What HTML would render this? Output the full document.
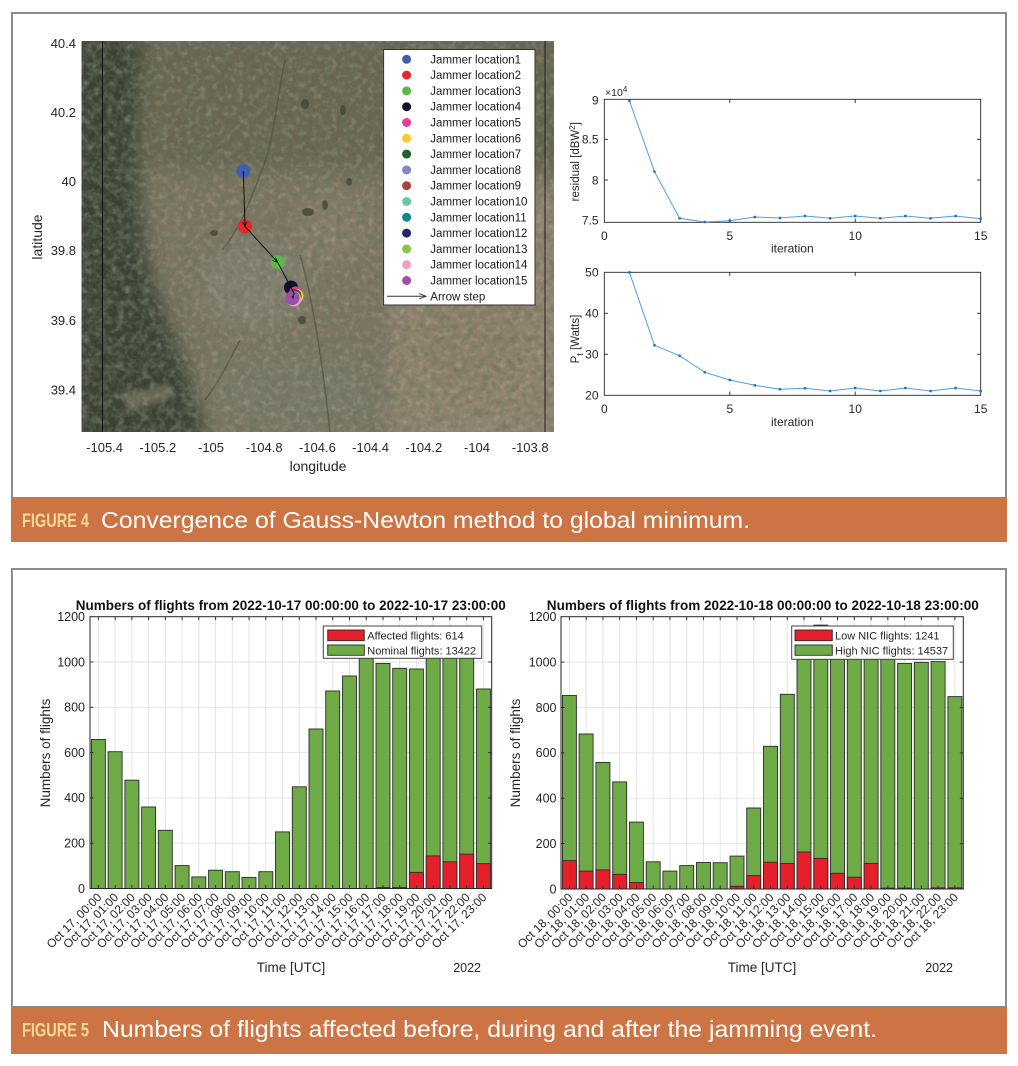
<!DOCTYPE html>
<html><head><meta charset="utf-8"><style>
html,body{margin:0;padding:0;background:#fff;}
svg{display:block;font-family:"Liberation Sans",Arial,sans-serif;}
</style></head><body>
<svg width="1018" height="1066" viewBox="0 0 1018 1066" xmlns="http://www.w3.org/2000/svg">
<defs>
<clipPath id="mc"><rect x="81.5" y="41" width="472.5" height="391"/></clipPath>
<filter id="b10" x="-20%" y="-20%" width="140%" height="140%"><feGaussianBlur stdDeviation="9"/></filter>
<filter id="b3" x="-20%" y="-20%" width="140%" height="140%"><feGaussianBlur stdDeviation="3"/></filter>
<filter id="tex" x="0" y="0" width="100%" height="100%"><feTurbulence type="fractalNoise" baseFrequency="0.12" numOctaves="3" seed="7"/><feColorMatrix type="matrix" values="0 0 0 0 0.14  0 0 0 0 0.17  0 0 0 0 0.11  2.6 0 0 0 -1.05"/></filter>
<filter id="tex2" x="0" y="0" width="100%" height="100%"><feTurbulence type="fractalNoise" baseFrequency="0.16" numOctaves="3" seed="21"/><feColorMatrix type="matrix" values="0 0 0 0 0.72  0 0 0 0 0.68  0 0 0 0 0.58  0 2.4 0 0 -1.1"/></filter>
<pattern id="vgL" patternUnits="userSpaceOnUse" x="90" y="0" width="16.74" height="10"><rect x="7.9" y="0" width="0.9" height="10" fill="#e2e2e2"/></pattern>
<pattern id="vgR" patternUnits="userSpaceOnUse" x="561" y="0" width="16.76" height="10"><rect x="7.9" y="0" width="0.9" height="10" fill="#e2e2e2"/></pattern>
<pattern id="tkL" patternUnits="userSpaceOnUse" x="90" y="0" width="16.74" height="10"><rect x="7.9" y="0" width="1" height="10" fill="#333"/></pattern>
<pattern id="tkR" patternUnits="userSpaceOnUse" x="561" y="0" width="16.76" height="10"><rect x="7.9" y="0" width="1" height="10" fill="#333"/></pattern>
</defs>
<rect width="1018" height="1066" fill="#fff"/>

<!-- ============ FIGURE 4 PANEL ============ -->
<rect x="12" y="13" width="994" height="485" fill="#fff" stroke="#8c8c8c" stroke-width="2"/>
<rect x="11" y="497.5" width="996" height="44.5" fill="#CD7445"/>
<text x="22" y="527" font-family="'Liberation Sans Narrow','Liberation Sans',sans-serif" font-weight="bold" font-size="19" fill="#F8D98F" textLength="67" lengthAdjust="spacingAndGlyphs">FIGURE 4</text>
<text x="101" y="528" font-size="23" fill="#fff" textLength="649" lengthAdjust="spacingAndGlyphs">Convergence of Gauss-Newton method to global minimum.</text>

<!-- map -->
<g clip-path="url(#mc)">
<rect x="81" y="41" width="474" height="392" fill="#7b7561"/>
<g filter="url(#b10)">
 <rect x="140" y="30" width="430" height="140" fill="#62624c" opacity="0.75"/>
 <rect x="390" y="190" width="180" height="260" fill="#948670" opacity="0.85"/>
 <ellipse cx="300" cy="395" rx="95" ry="50" fill="#7c796a" opacity="0.6"/>
 <ellipse cx="255" cy="285" rx="55" ry="45" fill="#8a877e" opacity="0.55"/>
 <ellipse cx="330" cy="230" rx="40" ry="35" fill="#8c8069" opacity="0.6"/>
 <ellipse cx="520" cy="110" rx="40" ry="70" fill="#5e5f4c" opacity="0.6"/>
 <ellipse cx="470" cy="330" rx="50" ry="60" fill="#877a62" opacity="0.5"/>
 <polygon points="70,30 142,30 138,130 141,210 150,270 162,305 178,345 192,385 210,445 70,445" fill="#3b4234"/>
</g>
<polygon points="120,395 170,385 175,395 130,412" fill="#8e8470" opacity="0.6" filter="url(#b3)"/>
<rect x="81" y="41" width="474" height="392" filter="url(#tex)" opacity="0.6"/>
<rect x="81" y="41" width="474" height="392" filter="url(#tex2)" opacity="0.22"/>
<g fill="#3a4232" opacity="0.7">
<ellipse cx="308" cy="212" rx="6" ry="4"/><ellipse cx="325" cy="205" rx="3" ry="5"/><ellipse cx="349" cy="182" rx="3" ry="4"/><ellipse cx="302" cy="320" rx="4" ry="4"/><ellipse cx="214" cy="233" rx="4" ry="3"/><ellipse cx="305" cy="104" rx="4" ry="5"/><ellipse cx="343" cy="110" rx="3" ry="5"/>
</g>
<g fill="none" stroke="#4a4f3e" stroke-width="1.5" opacity="0.6">
<path d="M222,250 C240,230 250,200 262,170 S275,110 285,60"/>
<path d="M300,255 C310,290 320,340 330,432"/>
<path d="M240,340 C230,360 220,380 205,400"/>
</g>
<line x1="102.5" y1="41" x2="102.5" y2="432" stroke="#111" stroke-width="1"/>
<line x1="545" y1="41" x2="545" y2="432" stroke="#222" stroke-width="1"/>
</g>

<!-- jammer dots -->
<circle cx="243.3" cy="171" r="7" fill="#3F5EB0"/>
<circle cx="245" cy="226.5" r="7" fill="#E8262C"/>
<circle cx="277.7" cy="262.3" r="7" fill="#5CB947"/>
<circle cx="291" cy="287.5" r="7" fill="#12122C"/>
<circle cx="295.8" cy="293.5" r="7" fill="#E0409A"/>
<circle cx="296.5" cy="296" r="7" fill="#FCC82E"/>
<circle cx="294.5" cy="296" r="7" fill="#1E5E30"/>
<circle cx="294" cy="297" r="7" fill="#8087C4"/>
<circle cx="294" cy="297" r="7" fill="#A0473F"/>
<circle cx="294" cy="297.5" r="7" fill="#6BC6A8"/>
<circle cx="294" cy="297.5" r="7" fill="#12868F"/>
<circle cx="294" cy="297.5" r="7" fill="#25246E"/>
<circle cx="294" cy="298" r="7" fill="#8DC54A"/>
<circle cx="294" cy="299.5" r="7" fill="#EBA0C6"/>
<circle cx="292.5" cy="298" r="7" fill="#9B4FA5"/>
<polyline points="243.3,171 245,226.5 277.7,262.3 291,287.5 294,293 293,298 292,296" fill="none" stroke="#111" stroke-width="1"/>
<polyline points="242.5,222 245,226.5 246.8,222" fill="none" stroke="#111" stroke-width="0.8"/>
<polyline points="272.5,260.5 277.7,262.3 275.5,257.5" fill="none" stroke="#111" stroke-width="0.8"/>
<polyline points="287.5,284.5 291,287.5 290.6,282.8" fill="none" stroke="#111" stroke-width="0.8"/>

<!-- map legend -->
<rect x="383.6" y="49.5" width="151.4" height="255.5" fill="#fff" stroke="#333" stroke-width="1"/>
<g font-size="11.5" fill="#1a1a1a">
<circle cx="406.6" cy="59.3" r="4.5" fill="#3F5EB0"/><text x="430.3" y="63.3">Jammer location1</text>
<circle cx="406.6" cy="75.1" r="4.5" fill="#E8262C"/><text x="430.3" y="79.1">Jammer location2</text>
<circle cx="406.6" cy="90.9" r="4.5" fill="#5CB947"/><text x="430.3" y="94.9">Jammer location3</text>
<circle cx="406.6" cy="106.7" r="4.5" fill="#12122C"/><text x="430.3" y="110.7">Jammer location4</text>
<circle cx="406.6" cy="122.5" r="4.5" fill="#E0409A"/><text x="430.3" y="126.5">Jammer location5</text>
<circle cx="406.6" cy="138.3" r="4.5" fill="#FCC82E"/><text x="430.3" y="142.3">Jammer location6</text>
<circle cx="406.6" cy="154.1" r="4.5" fill="#1E5E30"/><text x="430.3" y="158.1">Jammer location7</text>
<circle cx="406.6" cy="169.9" r="4.5" fill="#8087C4"/><text x="430.3" y="173.9">Jammer location8</text>
<circle cx="406.6" cy="185.7" r="4.5" fill="#A0473F"/><text x="430.3" y="189.7">Jammer location9</text>
<circle cx="406.6" cy="201.5" r="4.5" fill="#6BC6A8"/><text x="430.3" y="205.5">Jammer location10</text>
<circle cx="406.6" cy="217.3" r="4.5" fill="#12868F"/><text x="430.3" y="221.3">Jammer location11</text>
<circle cx="406.6" cy="233.1" r="4.5" fill="#25246E"/><text x="430.3" y="237.1">Jammer location12</text>
<circle cx="406.6" cy="248.9" r="4.5" fill="#8DC54A"/><text x="430.3" y="252.9">Jammer location13</text>
<circle cx="406.6" cy="264.7" r="4.5" fill="#EBA0C6"/><text x="430.3" y="268.7">Jammer location14</text>
<circle cx="406.6" cy="280.5" r="4.5" fill="#9B4FA5"/><text x="430.3" y="284.5">Jammer location15</text>
<line x1="387" y1="296.3" x2="426" y2="296.3" stroke="#333" stroke-width="1"/>
<polyline points="419,293.5 426,296.3 419,299" fill="none" stroke="#333" stroke-width="0.9"/>
<text x="430.3" y="300.3">Arrow step</text>
</g>

<!-- map axes labels -->
<g font-size="13" fill="#262626" text-anchor="end">
<text x="76" y="47.8">40.4</text>
<text x="76" y="117.2">40.2</text>
<text x="76" y="186.2">40</text>
<text x="76" y="255.2">39.8</text>
<text x="76" y="325.2">39.6</text>
<text x="76" y="394.5">39.4</text>
</g>
<g font-size="13" fill="#262626" text-anchor="middle">
<text x="104.6" y="452">-105.4</text>
<text x="157.8" y="452">-105.2</text>
<text x="211" y="452">-105</text>
<text x="264.2" y="452">-104.8</text>
<text x="317.4" y="452">-104.6</text>
<text x="370.6" y="452">-104.4</text>
<text x="423.8" y="452">-104.2</text>
<text x="477" y="452">-104</text>
<text x="530.2" y="452">-103.8</text>
<text x="318" y="471" font-size="14">longitude</text>
<text transform="translate(42,237) rotate(-90)" font-size="14">latitude</text>
</g>

<!-- residual plot -->
<rect x="604.3" y="99.3" width="376.4" height="123" fill="#fff" stroke="#262626" stroke-width="0.9"/>
<g stroke="#262626" stroke-width="0.9">
<line x1="729.8" y1="222.3" x2="729.8" y2="218.5"/><line x1="855.2" y1="222.3" x2="855.2" y2="218.5"/>
<line x1="729.8" y1="99.3" x2="729.8" y2="103"/><line x1="855.2" y1="99.3" x2="855.2" y2="103"/>
<line x1="604.3" y1="139.3" x2="608" y2="139.3"/><line x1="604.3" y1="180" x2="608" y2="180"/>
<line x1="980.7" y1="139.3" x2="977" y2="139.3"/><line x1="980.7" y1="180" x2="977" y2="180"/>
</g>
<polyline points="629.4,100.7 654.5,171.7 679.6,218.3 704.7,222 729.8,220.7 754.8,217 779.9,218 805,216 830.1,218.3 855.2,216 880.3,218.3 905.4,216 930.5,218.3 955.6,216 980.7,218.7" fill="none" stroke="#4D9FDF" stroke-width="1"/>
<g fill="#1F6FB8">
<rect x="628.2" y="99.5" width="2.4" height="2.4"/><rect x="653.3" y="170.5" width="2.4" height="2.4"/><rect x="678.4" y="217.1" width="2.4" height="2.4"/><rect x="703.5" y="220.8" width="2.4" height="2.4"/><rect x="728.6" y="219.5" width="2.4" height="2.4"/><rect x="753.6" y="215.8" width="2.4" height="2.4"/><rect x="778.7" y="216.8" width="2.4" height="2.4"/><rect x="803.8" y="214.8" width="2.4" height="2.4"/><rect x="828.9" y="217.1" width="2.4" height="2.4"/><rect x="854" y="214.8" width="2.4" height="2.4"/><rect x="879.1" y="217.1" width="2.4" height="2.4"/><rect x="904.2" y="214.8" width="2.4" height="2.4"/><rect x="929.3" y="217.1" width="2.4" height="2.4"/><rect x="954.4" y="214.8" width="2.4" height="2.4"/><rect x="979.5" y="217.5" width="2.4" height="2.4"/>
</g>
<g font-size="12" fill="#262626">
<text x="598.5" y="104.3" text-anchor="end">9</text>
<text x="598.5" y="143.6" text-anchor="end">8.5</text>
<text x="598.5" y="184.3" text-anchor="end">8</text>
<text x="598.5" y="224.3" text-anchor="end">7.5</text>
<text x="604.3" y="240" text-anchor="middle">0</text>
<text x="729.8" y="240" text-anchor="middle">5</text>
<text x="855.2" y="240" text-anchor="middle">10</text>
<text x="980.7" y="240" text-anchor="middle">15</text>
<text x="792.3" y="252.5" text-anchor="middle">iteration</text>
<text x="605" y="96" font-size="10.5">×10<tspan font-size="8" dy="-4">4</tspan></text>
<text transform="translate(579,161.7) rotate(-90)" text-anchor="middle" font-size="11.5">residual [dBW<tspan font-size="8" dy="-4">2</tspan><tspan dy="4">]</tspan></text>
</g>

<!-- power plot -->
<rect x="604.3" y="272.3" width="376.4" height="123" fill="#fff" stroke="#262626" stroke-width="0.9"/>
<g stroke="#262626" stroke-width="0.9">
<line x1="729.8" y1="395.3" x2="729.8" y2="391.5"/><line x1="855.2" y1="395.3" x2="855.2" y2="391.5"/>
<line x1="729.8" y1="272.3" x2="729.8" y2="276"/><line x1="855.2" y1="272.3" x2="855.2" y2="276"/>
<line x1="604.3" y1="313.3" x2="608" y2="313.3"/><line x1="604.3" y1="354.3" x2="608" y2="354.3"/>
<line x1="980.7" y1="313.3" x2="977" y2="313.3"/><line x1="980.7" y1="354.3" x2="977" y2="354.3"/>
</g>
<polyline points="629.4,272.3 654.5,345.3 679.6,355.7 704.7,372.3 729.8,380 754.8,385.3 779.9,389.3 805,388.3 830.1,391 855.2,388 880.3,391 905.4,388 930.5,391 955.6,388 980.7,391" fill="none" stroke="#4D9FDF" stroke-width="1"/>
<g fill="#1F6FB8">
<rect x="628.2" y="271.1" width="2.4" height="2.4"/><rect x="653.3" y="344.1" width="2.4" height="2.4"/><rect x="678.4" y="354.5" width="2.4" height="2.4"/><rect x="703.5" y="371.1" width="2.4" height="2.4"/><rect x="728.6" y="378.8" width="2.4" height="2.4"/><rect x="753.6" y="384.1" width="2.4" height="2.4"/><rect x="778.7" y="388.1" width="2.4" height="2.4"/><rect x="803.8" y="387.1" width="2.4" height="2.4"/><rect x="828.9" y="389.8" width="2.4" height="2.4"/><rect x="854" y="386.8" width="2.4" height="2.4"/><rect x="879.1" y="389.8" width="2.4" height="2.4"/><rect x="904.2" y="386.8" width="2.4" height="2.4"/><rect x="929.3" y="389.8" width="2.4" height="2.4"/><rect x="954.4" y="386.8" width="2.4" height="2.4"/><rect x="979.5" y="389.8" width="2.4" height="2.4"/>
</g>
<g font-size="12" fill="#262626">
<text x="598.5" y="276.6" text-anchor="end">50</text>
<text x="598.5" y="317.6" text-anchor="end">40</text>
<text x="598.5" y="358.6" text-anchor="end">30</text>
<text x="598.5" y="399.6" text-anchor="end">20</text>
<text x="604.3" y="413" text-anchor="middle">0</text>
<text x="729.8" y="413" text-anchor="middle">5</text>
<text x="855.2" y="413" text-anchor="middle">10</text>
<text x="980.7" y="413" text-anchor="middle">15</text>
<text x="792.3" y="426" text-anchor="middle">iteration</text>
<text transform="translate(579,339) rotate(-90)" text-anchor="middle" font-size="11.5">P<tspan font-size="9" dy="4">t</tspan><tspan dy="-4"> [Watts]</tspan></text>
</g>

<!-- ============ FIGURE 5 PANEL ============ -->
<rect x="12" y="569" width="994" height="438" fill="#fff" stroke="#8c8c8c" stroke-width="2"/>
<rect x="11" y="1007" width="996" height="47" fill="#CD7445"/>
<text x="22" y="1036.5" font-family="'Liberation Sans Narrow','Liberation Sans',sans-serif" font-weight="bold" font-size="19" fill="#F8D98F" textLength="67" lengthAdjust="spacingAndGlyphs">FIGURE 5</text>
<text x="102" y="1037" font-size="23" fill="#fff" textLength="775" lengthAdjust="spacingAndGlyphs">Numbers of flights affected before, during and after the jamming event.</text>

<!-- LEFT BAR CHART -->
<rect x="90" y="616.7" width="401.7" height="271.8" fill="#fff"/>
<rect x="90" y="616.7" width="401.7" height="271.8" fill="url(#vgL)"/>
<g stroke="#e2e2e2" stroke-width="0.9">
<line x1="90" y1="843.2" x2="491.7" y2="843.2"/><line x1="90" y1="797.9" x2="491.7" y2="797.9"/><line x1="90" y1="752.6" x2="491.7" y2="752.6"/><line x1="90" y1="707.3" x2="491.7" y2="707.3"/><line x1="90" y1="662" x2="491.7" y2="662"/>
</g>
<g fill="#6EAA45" stroke="#2b2b2b" stroke-width="0.9">
<rect x="91.4" y="739.5" width="14" height="149"/>
<rect x="108.1" y="751.7" width="14" height="136.8"/>
<rect x="124.9" y="780.2" width="14" height="108.3"/>
<rect x="141.6" y="807" width="14" height="81.5"/>
<rect x="158.3" y="830.3" width="14" height="58.2"/>
<rect x="175.1" y="865.6" width="14" height="22.9"/>
<rect x="191.8" y="876.9" width="14" height="11.6"/>
<rect x="208.6" y="870.2" width="14" height="18.3"/>
<rect x="225.3" y="871.7" width="14" height="16.8"/>
<rect x="242" y="877.4" width="14" height="11.1"/>
<rect x="258.8" y="871.7" width="14" height="16.8"/>
<rect x="275.5" y="831.9" width="14" height="56.6"/>
<rect x="292.3" y="786.8" width="14" height="101.7"/>
<rect x="309" y="729" width="14" height="159.5"/>
<rect x="325.7" y="691" width="14" height="197.5"/>
<rect x="342.5" y="676" width="14" height="212.5"/>
<rect x="359.2" y="648.4" width="14" height="240.1"/>
<rect x="376" y="663.4" width="14" height="225.1"/>
<rect x="392.7" y="668.3" width="14" height="220.2"/>
<rect x="409.4" y="669" width="14" height="219.5"/>
<rect x="426.2" y="643.9" width="14" height="244.6"/>
<rect x="442.9" y="646.1" width="14" height="242.4"/>
<rect x="459.7" y="645" width="14" height="243.5"/>
<rect x="476.4" y="689" width="14" height="199.5"/>
</g>
<g fill="#E5202B" stroke="#2b2b2b" stroke-width="0.9">
<rect x="376" y="887.6" width="14" height="0.9"/>
<rect x="392.7" y="887.6" width="14" height="0.9"/>
<rect x="409.4" y="872.4" width="14" height="16.1"/>
<rect x="426.2" y="855.9" width="14" height="32.6"/>
<rect x="442.9" y="861.8" width="14" height="26.7"/>
<rect x="459.7" y="854.1" width="14" height="34.4"/>
<rect x="476.4" y="863.6" width="14" height="24.9"/>
</g>
<rect x="90" y="616.7" width="401.7" height="3.5" fill="url(#tkL)"/>
<rect x="90" y="885" width="401.7" height="3.5" fill="url(#tkL)"/>
<g stroke="#262626" stroke-width="0.9">
<line x1="90" y1="843.2" x2="93.5" y2="843.2"/><line x1="90" y1="797.9" x2="93.5" y2="797.9"/><line x1="90" y1="752.6" x2="93.5" y2="752.6"/><line x1="90" y1="707.3" x2="93.5" y2="707.3"/><line x1="90" y1="662" x2="93.5" y2="662"/>
<line x1="491.7" y1="843.2" x2="488.2" y2="843.2"/><line x1="491.7" y1="797.9" x2="488.2" y2="797.9"/><line x1="491.7" y1="752.6" x2="488.2" y2="752.6"/><line x1="491.7" y1="707.3" x2="488.2" y2="707.3"/><line x1="491.7" y1="662" x2="488.2" y2="662"/>
</g>
<rect x="90" y="616.7" width="401.7" height="271.8" fill="none" stroke="#262626" stroke-width="1"/>
<!-- left legend -->
<rect x="323.3" y="626" width="158.4" height="32.3" fill="#fff" stroke="#444" stroke-width="1"/>
<rect x="327.7" y="630" width="36.6" height="10.7" fill="#E5202B" stroke="#2b2b2b" stroke-width="0.9"/>
<rect x="327.7" y="645" width="36.6" height="10.3" fill="#6EAA45" stroke="#2b2b2b" stroke-width="0.9"/>
<g font-size="11" fill="#262626">
<text x="367.3" y="639.3">Affected flights: 614</text>
<text x="367.3" y="654.3">Nominal flights: 13422</text>
</g>
<text x="290.8" y="610" font-size="13.5" font-weight="bold" fill="#111" text-anchor="middle" textLength="430" lengthAdjust="spacingAndGlyphs">Numbers of flights from 2022-10-17 00:00:00 to 2022-10-17 23:00:00</text>
<g font-size="12.5" fill="#262626" text-anchor="end">
<text x="85" y="892.8">0</text>
<text x="85" y="847.5">200</text>
<text x="85" y="802.2">400</text>
<text x="85" y="756.9">600</text>
<text x="85" y="711.6">800</text>
<text x="85" y="666.3">1000</text>
<text x="85" y="621">1200</text>
</g>
<text transform="translate(50,753) rotate(-90)" font-size="13.5" fill="#262626" text-anchor="middle">Numbers of flights</text>
<g font-size="12" fill="#262626" text-anchor="end">
<text transform="translate(102.4,898) rotate(-45)">Oct 17, 00:00</text>
<text transform="translate(119.1,898) rotate(-45)">Oct 17, 01:00</text>
<text transform="translate(135.9,898) rotate(-45)">Oct 17, 02:00</text>
<text transform="translate(152.6,898) rotate(-45)">Oct 17, 03:00</text>
<text transform="translate(169.3,898) rotate(-45)">Oct 17, 04:00</text>
<text transform="translate(186.1,898) rotate(-45)">Oct 17, 05:00</text>
<text transform="translate(202.8,898) rotate(-45)">Oct 17, 06:00</text>
<text transform="translate(219.6,898) rotate(-45)">Oct 17, 07:00</text>
<text transform="translate(236.3,898) rotate(-45)">Oct 17, 08:00</text>
<text transform="translate(253,898) rotate(-45)">Oct 17, 09:00</text>
<text transform="translate(269.8,898) rotate(-45)">Oct 17, 10:00</text>
<text transform="translate(286.5,898) rotate(-45)">Oct 17, 11:00</text>
<text transform="translate(303.3,898) rotate(-45)">Oct 17, 12:00</text>
<text transform="translate(320,898) rotate(-45)">Oct 17, 13:00</text>
<text transform="translate(336.7,898) rotate(-45)">Oct 17, 14:00</text>
<text transform="translate(353.5,898) rotate(-45)">Oct 17, 15:00</text>
<text transform="translate(370.2,898) rotate(-45)">Oct 17, 16:00</text>
<text transform="translate(387,898) rotate(-45)">Oct 17, 17:00</text>
<text transform="translate(403.7,898) rotate(-45)">Oct 17, 18:00</text>
<text transform="translate(420.4,898) rotate(-45)">Oct 17, 19:00</text>
<text transform="translate(437.2,898) rotate(-45)">Oct 17, 20:00</text>
<text transform="translate(453.9,898) rotate(-45)">Oct 17, 21:00</text>
<text transform="translate(470.7,898) rotate(-45)">Oct 17, 22:00</text>
<text transform="translate(487.4,898) rotate(-45)">Oct 17, 23:00</text>
</g>
<text x="291" y="972" font-size="13.5" fill="#262626" text-anchor="middle">Time [UTC]</text>
<text x="481" y="972" font-size="12.5" fill="#262626" text-anchor="end">2022</text>

<!-- RIGHT BAR CHART -->
<rect x="561" y="616.7" width="402.3" height="272.3" fill="#fff"/>
<rect x="561" y="616.7" width="402.3" height="272.3" fill="url(#vgR)"/>
<g stroke="#e2e2e2" stroke-width="0.9">
<line x1="561" y1="843.6" x2="963.3" y2="843.6"/><line x1="561" y1="798.2" x2="963.3" y2="798.2"/><line x1="561" y1="752.9" x2="963.3" y2="752.9"/><line x1="561" y1="707.5" x2="963.3" y2="707.5"/><line x1="561" y1="662.1" x2="963.3" y2="662.1"/>
</g>
<g fill="#6EAA45" stroke="#2b2b2b" stroke-width="0.9">
<rect x="562.4" y="695.5" width="14" height="193.5"/>
<rect x="579.1" y="734" width="14" height="155"/>
<rect x="595.9" y="762.4" width="14" height="126.6"/>
<rect x="612.7" y="781.9" width="14" height="107.1"/>
<rect x="629.4" y="822.1" width="14" height="66.9"/>
<rect x="646.2" y="861.8" width="14" height="27.2"/>
<rect x="662.9" y="871.1" width="14" height="17.9"/>
<rect x="679.7" y="865.6" width="14" height="23.4"/>
<rect x="696.5" y="862.5" width="14" height="26.5"/>
<rect x="713.2" y="862.7" width="14" height="26.3"/>
<rect x="730" y="856.1" width="14" height="32.9"/>
<rect x="746.7" y="808" width="14" height="81"/>
<rect x="763.5" y="746.3" width="14" height="142.7"/>
<rect x="780.3" y="694.3" width="14" height="194.7"/>
<rect x="797" y="643.9" width="14" height="245.1"/>
<rect x="813.8" y="625.1" width="14" height="263.9"/>
<rect x="830.5" y="646.2" width="14" height="242.8"/>
<rect x="847.3" y="648.5" width="14" height="240.5"/>
<rect x="864.1" y="650.8" width="14" height="238.2"/>
<rect x="880.8" y="653" width="14" height="236"/>
<rect x="897.6" y="663.5" width="14" height="225.5"/>
<rect x="914.3" y="662.3" width="14" height="226.7"/>
<rect x="931.1" y="661.6" width="14" height="227.4"/>
<rect x="947.9" y="696.6" width="14" height="192.4"/>
</g>
<g fill="#E5202B" stroke="#2b2b2b" stroke-width="0.9">
<rect x="562.4" y="860.6" width="14" height="28.4"/>
<rect x="579.1" y="871.1" width="14" height="17.9"/>
<rect x="595.9" y="869.9" width="14" height="19.1"/>
<rect x="612.7" y="874.3" width="14" height="14.7"/>
<rect x="629.4" y="882.6" width="14" height="6.4"/>
<rect x="730" y="886.3" width="14" height="2.7"/>
<rect x="746.7" y="875.6" width="14" height="13.4"/>
<rect x="763.5" y="862.2" width="14" height="26.8"/>
<rect x="780.3" y="863.4" width="14" height="25.6"/>
<rect x="797" y="852" width="14" height="37"/>
<rect x="813.8" y="858.4" width="14" height="30.6"/>
<rect x="830.5" y="873.3" width="14" height="15.7"/>
<rect x="847.3" y="877.2" width="14" height="11.8"/>
<rect x="864.1" y="863.4" width="14" height="25.6"/>
<rect x="880.8" y="888.1" width="14" height="0.9"/>
<rect x="897.6" y="888.1" width="14" height="0.9"/>
<rect x="931.1" y="887.9" width="14" height="1.1"/>
<rect x="947.9" y="887.9" width="14" height="1.1"/>
</g>
<rect x="561" y="616.7" width="402.3" height="3.5" fill="url(#tkR)"/>
<rect x="561" y="885.5" width="402.3" height="3.5" fill="url(#tkR)"/>
<g stroke="#262626" stroke-width="0.9">
<line x1="561" y1="843.6" x2="564.5" y2="843.6"/><line x1="561" y1="798.2" x2="564.5" y2="798.2"/><line x1="561" y1="752.9" x2="564.5" y2="752.9"/><line x1="561" y1="707.5" x2="564.5" y2="707.5"/><line x1="561" y1="662.1" x2="564.5" y2="662.1"/>
<line x1="963.3" y1="843.6" x2="959.8" y2="843.6"/><line x1="963.3" y1="798.2" x2="959.8" y2="798.2"/><line x1="963.3" y1="752.9" x2="959.8" y2="752.9"/><line x1="963.3" y1="707.5" x2="959.8" y2="707.5"/><line x1="963.3" y1="662.1" x2="959.8" y2="662.1"/>
</g>
<rect x="561" y="616.7" width="402.3" height="272.3" fill="none" stroke="#262626" stroke-width="1"/>
<!-- right legend -->
<rect x="791.7" y="626" width="161.6" height="33.3" fill="#fff" stroke="#444" stroke-width="1"/>
<rect x="795" y="630" width="37.3" height="10.7" fill="#E5202B" stroke="#2b2b2b" stroke-width="0.9"/>
<rect x="795" y="645" width="37.3" height="10.3" fill="#6EAA45" stroke="#2b2b2b" stroke-width="0.9"/>
<g font-size="11" fill="#262626">
<text x="835" y="639.3">Low NIC flights: 1241</text>
<text x="835" y="654.3">High NIC flights: 14537</text>
</g>
<text x="762.8" y="610" font-size="13.5" font-weight="bold" fill="#111" text-anchor="middle" textLength="432" lengthAdjust="spacingAndGlyphs">Numbers of flights from 2022-10-18 00:00:00 to 2022-10-18 23:00:00</text>
<g font-size="12.5" fill="#262626" text-anchor="end">
<text x="556.5" y="893.3">0</text>
<text x="556.5" y="847.9">200</text>
<text x="556.5" y="802.5">400</text>
<text x="556.5" y="757.2">600</text>
<text x="556.5" y="711.8">800</text>
<text x="556.5" y="666.4">1000</text>
<text x="556.5" y="621">1200</text>
</g>
<text transform="translate(520,753) rotate(-90)" font-size="13.5" fill="#262626" text-anchor="middle">Numbers of flights</text>
<g font-size="12" fill="#262626" text-anchor="end">
<text transform="translate(573.4,898) rotate(-45)">Oct 18, 00:00</text>
<text transform="translate(590.1,898) rotate(-45)">Oct 18, 01:00</text>
<text transform="translate(606.9,898) rotate(-45)">Oct 18, 02:00</text>
<text transform="translate(623.7,898) rotate(-45)">Oct 18, 03:00</text>
<text transform="translate(640.4,898) rotate(-45)">Oct 18, 04:00</text>
<text transform="translate(657.2,898) rotate(-45)">Oct 18, 05:00</text>
<text transform="translate(673.9,898) rotate(-45)">Oct 18, 06:00</text>
<text transform="translate(690.7,898) rotate(-45)">Oct 18, 07:00</text>
<text transform="translate(707.5,898) rotate(-45)">Oct 18, 08:00</text>
<text transform="translate(724.2,898) rotate(-45)">Oct 18, 09:00</text>
<text transform="translate(741,898) rotate(-45)">Oct 18, 10:00</text>
<text transform="translate(757.7,898) rotate(-45)">Oct 18, 11:00</text>
<text transform="translate(774.5,898) rotate(-45)">Oct 18, 12:00</text>
<text transform="translate(791.3,898) rotate(-45)">Oct 18, 13:00</text>
<text transform="translate(808,898) rotate(-45)">Oct 18, 14:00</text>
<text transform="translate(824.8,898) rotate(-45)">Oct 18, 15:00</text>
<text transform="translate(841.5,898) rotate(-45)">Oct 18, 16:00</text>
<text transform="translate(858.3,898) rotate(-45)">Oct 18, 17:00</text>
<text transform="translate(875.1,898) rotate(-45)">Oct 18, 18:00</text>
<text transform="translate(891.8,898) rotate(-45)">Oct 18, 19:00</text>
<text transform="translate(908.6,898) rotate(-45)">Oct 18, 20:00</text>
<text transform="translate(925.3,898) rotate(-45)">Oct 18, 21:00</text>
<text transform="translate(942.1,898) rotate(-45)">Oct 18, 22:00</text>
<text transform="translate(958.9,898) rotate(-45)">Oct 18, 23:00</text>
</g>
<text x="762" y="972" font-size="13.5" fill="#262626" text-anchor="middle">Time [UTC]</text>
<text x="953" y="972" font-size="12.5" fill="#262626" text-anchor="end">2022</text>
</svg>
</body></html>
